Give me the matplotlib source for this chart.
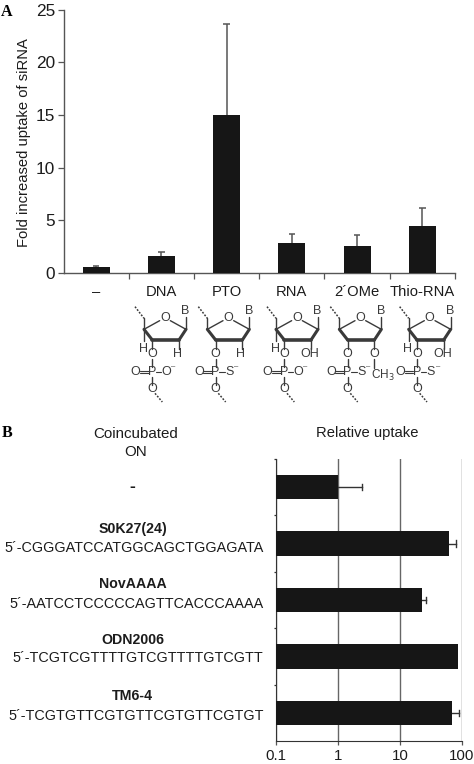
import matplotlib
matplotlib.use("Agg")
import matplotlib.pyplot as plt
from matplotlib.ticker import NullFormatter

plt.rcParams['font.family'] = ['Liberation Sans', 'DejaVu Sans']
W, H = 474, 764
FS = 10.6
INK = '#1c1c1c'
GREY = '#555555'

# Panel A data
a_labels = ['–', 'DNA', 'PTO', 'RNA', '2´OMe', 'Thio-RNA']
a_values = [0.6, 1.6, 15.0, 2.8, 2.6, 4.5]
a_upper = [0.7, 2.0, 23.6, 3.7, 3.6, 6.2]
a_yticks = [0, 5, 10, 15, 20, 25]

# Panel B data
b_values = [1.0, 62, 22.4, 85, 70]
b_upper = [2.44, 80, 26, 85, 91]
b_names = ['-', 'S0K27(24)', 'NovAAAA', 'ODN2006', 'TM6-4']
b_seqs = ['', '5´-CGGGATCCATGGCAGCTGGAGATA', '5´-AATCCTCCCCCAGTTCACCCAAAA',
          '5´-TCGTCGTTTTGTCGTTTTGTCGTT', '5´-TCGTGTTCGTGTTCGTGTTCGTGT']
b_xticks = [0.1, 1, 10, 100]
b_xlabels = ['0.1', '1', '10', '100']

# Chemical structure variants (DNA ... Thio-RNA)
s_left_h = [True, False, True, False, True]
s_right = ['H', 'H', 'OH', 'OMe', 'OH']
s_charge = ['O', 'S', 'O', 'S', 'S']


def axes_px(x0, y0, x1, y1):
    return fig.add_axes([x0 / W, 1 - y1 / H, (x1 - x0) / W, (y1 - y0) / H])


fig = plt.figure(figsize=(W / 100, H / 100), dpi=100, facecolor='white')

# ---- Panel A
ax = axes_px(63.5, 9.5, 455, 273)
pos = list(range(len(a_values)))
ax.bar(pos, a_values, width=0.415, color='#161616', zorder=3)
ax.vlines(pos, a_values, a_upper, color=GREY, lw=1.1, zorder=2)
ax.hlines(a_upper, [p - 0.05 for p in pos], [p + 0.05 for p in pos], color=GREY, lw=1.1)
ax.set_xlim(-0.5, 5.5)
ax.set_ylim(0, 25)
ax.set_yticks(a_yticks)
ax.set_xticks([p + 0.5 for p in pos])
ax.set_xticklabels([])
ax.set_xticks(pos, minor=True)
ax.set_xticklabels(a_labels, minor=True, fontsize=FS, color=INK)
ax.tick_params(axis='x', which='minor', length=0, pad=8.5)
ax.tick_params(axis='x', which='major', length=4, width=0.9, color=GREY)
ax.tick_params(axis='y', length=4, width=0.9, color=GREY, labelsize=12.4, labelcolor=INK, pad=2)
ax.set_ylabel('Fold increased uptake of siRNA', fontsize=FS, color=INK)
ax.yaxis.set_label_coords(-0.083, 0.494)
for s in ('top', 'right'):
    ax.spines[s].set_visible(False)
for s in ('left', 'bottom'):
    ax.spines[s].set_color(GREY)
    ax.spines[s].set_linewidth(1.0)

# ---- Panel B
bx = axes_px(276, 459, 462, 741)
rows = list(range(len(b_values)))
bx.barh(rows, [v - 0.1 for v in b_values], left=0.1, height=0.43, color='#161616', zorder=3)
for r, v, u in zip(rows, b_values, b_upper):
    if u > v:
        bx.plot([v, u], [r, r], color='#333333', lw=1.0, zorder=2)
        bx.plot([u, u], [r - 0.055, r + 0.055], color='#333333', lw=1.0, zorder=2)
bx.set_xscale('log')
bx.set_xlim(0.1, 100)
bx.set_ylim(4.5, -0.5)
bx.set_xticks(b_xticks)
bx.set_xticklabels(b_xlabels, fontsize=FS + 0.3, color=INK)
bx.xaxis.set_minor_formatter(NullFormatter())
bx.tick_params(axis='x', which='minor', length=0)
bx.tick_params(axis='x', which='major', length=3, width=0.9, color=GREY, pad=3)
bx.set_yticks([r + 0.5 for r in rows[:-1]] + [-0.5])
bx.set_yticklabels([])
bx.tick_params(axis='y', length=1.5, width=0.9, color='#333333')
bx.grid(axis='x', which='major', color='#666666', lw=1.0, zorder=1)
for s in ('top', 'right'):
    bx.spines[s].set_visible(False)
bx.spines['left'].set_color('#333333')
bx.spines['bottom'].set_color('#333333')

# ---- Overlay in pixel coordinates for text and structures
ov = fig.add_axes([0, 0, 1, 1], zorder=10)
ov.set_xlim(0, W)
ov.set_ylim(H, 0)
ov.axis('off')


def T(x, y, s, **kw):
    kw.setdefault('ha', 'center')
    kw.setdefault('va', 'center')
    kw.setdefault('fontsize', FS)
    kw.setdefault('color', INK)
    ov.text(x, y, s, **kw)


T(7, 11.5, 'A', family='Liberation Serif', fontweight='bold', fontsize=11.5, color='black')
T(7, 433, 'B', family='Liberation Serif', fontweight='bold', fontsize=11.5, color='black')
T(136, 433.5, 'Coincubated', fontsize=10.9)
T(136, 452, 'ON', fontsize=10.9)
T(367, 433.5, 'Relative uptake')

name_y = [487, 529, 584, 640, 696]
seq_y = [None, 548, 604, 658, 716]
for n, s, ny, sy in zip(b_names, b_seqs, name_y, seq_y):
    T(132.5, ny, n, fontweight='bold', fontsize=FS - 0.4 if s else FS + 2)
    if s:
        T(263.5, sy, s, ha='right', fontsize=FS - 0.2)

SC = '#3a3a3a'
SFS = 9.0


def line(x, y, pts, lw=1.0, **kw):
    xs = [x + p[0] / 3 for p in pts]
    ys = [y + p[1] / 3 for p in pts]
    ov.plot(xs, ys, color=kw.pop('color', SC), lw=lw, solid_capstyle='round', **kw)


def label(x, y, dx, dy, s, **kw):
    kw.setdefault('fontsize', SFS)
    T(x + dx / 3, y + dy / 3, s, color=SC, **kw)


def structure(x, y, left_h, right, charge):
    # offsets are zoomed pixels relative to ring carbon C4'
    line(x, y, [(-27, -68), (0, -33)], lw=1.1, ls=(0, (1.2, 1.0)))
    line(x, y, [(0, -33), (0, 0)])
    line(x, y, [(0, 0), (47, -26)])
    line(x, y, [(79, -26), (126, 0)])
    line(x, y, [(0, 0), (25, 32)], lw=2.2)
    line(x, y, [(25, 32), (105, 32)], lw=2.6)
    line(x, y, [(105, 32), (126, 0)], lw=2.2)
    line(x, y, [(126, 0), (126, -37)])
    label(x, y, 63, -35, 'O')
    label(x, y, 125, -54, 'B')
    if left_h:
        line(x, y, [(0, 0), (0, 36)])
        label(x, y, -2, 59, 'H')
    line(x, y, [(25, 32), (25, 60)])
    label(x, y, 25, 75, 'O')
    line(x, y, [(25, 90), (25, 112)])
    label(x, y, 25, 128, 'P')
    label(x, y, -25, 128, 'O')
    line(x, y, [(-12, 124), (14, 124)], lw=0.8)
    line(x, y, [(-12, 131), (14, 131)], lw=0.8)
    line(x, y, [(36, 128), (52, 128)], lw=0.8)
    label(x, y, 67, 128, charge)
    label(x, y, 87, 113, '–', fontsize=5.5)
    line(x, y, [(25, 144), (25, 166)])
    label(x, y, 25, 180, 'O')
    line(x, y, [(33, 192), (55, 218)], lw=1.1, ls=(0, (1.2, 1.0)))
    line(x, y, [(105, 32), (105, 60)])
    if right == 'H':
        label(x, y, 101, 75, 'H')
    elif right == 'OH':
        label(x, y, 102, 75, 'OH')
    else:
        label(x, y, 105, 75, 'O')
        line(x, y, [(105, 90), (105, 116)])
        label(x, y, 131, 138, 'CH$_3$', math_fontfamily='dejavusans', fontsize=8.5)


origins = [432, 622, 828, 1018, 1226]
for ox, lh, rt, ch in zip(origins, s_left_h, s_right, s_charge):
    structure(ox / 3, 270 + 178 / 3, lh, rt, ch)

fig.savefig('out.png', dpi=100, facecolor='white')
